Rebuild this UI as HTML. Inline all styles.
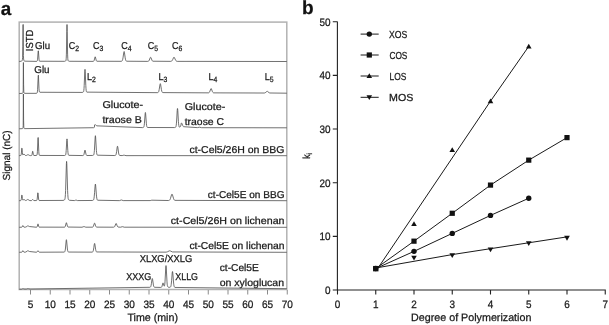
<!DOCTYPE html>
<html lang="en"><head><meta charset="utf-8"><title>Figure</title>
<style>html,body{margin:0;padding:0;background:#fff}body{width:609px;height:325px;overflow:hidden}text{font-family:"Liberation Sans", sans-serif;text-rendering:geometricPrecision;stroke:#1a1a1a;stroke-width:.26px}</style>
</head><body>
<svg width="609" height="325" viewBox="0 0 609 325" style="display:block">
<rect width="609" height="325" fill="#fff"/>
<rect x="19.2" y="22.1" width="267.6" height="267.4" fill="none" stroke="#b2b2b2" stroke-width="1.5"/>
<path d="M30.50 290V294.5 M50.25 290V294.5 M70.00 290V294.5 M89.75 290V294.5 M109.50 290V294.5 M129.25 290V294.5 M149.00 290V294.5 M168.75 290V294.5 M188.50 290V294.5 M208.25 290V294.5 M228.00 290V294.5 M247.75 290V294.5 M267.50 290V294.5 M287.25 290V294.5" stroke="#8a8a8a" stroke-width="1" fill="none"/>
<g font-size="10.7" fill="#1a1a1a" text-anchor="middle">
<text transform="translate(30.50 308) scale(0.94 1)">5</text>
<text transform="translate(50.25 308) scale(0.94 1)">10</text>
<text transform="translate(70.00 308) scale(0.94 1)">15</text>
<text transform="translate(89.75 308) scale(0.94 1)">20</text>
<text transform="translate(109.50 308) scale(0.94 1)">25</text>
<text transform="translate(129.25 308) scale(0.94 1)">30</text>
<text transform="translate(149.00 308) scale(0.94 1)">35</text>
<text transform="translate(168.75 308) scale(0.94 1)">40</text>
<text transform="translate(188.50 308) scale(0.94 1)">45</text>
<text transform="translate(208.25 308) scale(0.94 1)">50</text>
<text transform="translate(228.00 308) scale(0.94 1)">55</text>
<text transform="translate(247.75 308) scale(0.94 1)">60</text>
<text transform="translate(267.50 308) scale(0.94 1)">65</text>
<text transform="translate(287.25 308) scale(0.94 1)">70</text>
</g>
<text x="152.7" y="320.8" font-size="10.7" fill="#1a1a1a" text-anchor="middle" textLength="50.5" lengthAdjust="spacingAndGlyphs">Time (min)</text>
<text transform="translate(9.6 155.4) rotate(-90)" font-size="10.2" fill="#1a1a1a" text-anchor="middle" textLength="50" lengthAdjust="spacingAndGlyphs">Signal (nC)</text>
<text x="0.8" y="14.8" font-size="18.8" font-weight="bold" fill="#111">a</text>
<path d="M19.20 61.44 L21.20 61.26 L21.60 61.12 L21.80 60.99 L22.00 60.78 L22.20 60.41 L22.40 59.65 L22.60 57.73 L22.80 46.25 L23.00 24.50 L23.20 24.50 L23.40 55.39 L23.60 58.94 L23.80 60.10 L24.00 60.62 L24.20 60.90 L24.60 61.17 L36.40 61.38 L37.00 61.23 L37.20 61.04 L37.40 60.50 L37.60 59.21 L38.20 50.89 L38.40 50.89 L39.00 59.21 L39.20 60.50 L39.40 61.04 L39.60 61.23 L64.60 61.32 L65.40 61.10 L65.60 60.99 L65.80 60.79 L66.00 60.32 L66.20 58.76 L66.40 54.12 L66.80 31.27 L67.00 24.50 L67.20 31.27 L67.60 54.12 L67.80 58.76 L68.00 60.32 L68.20 60.79 L68.40 60.99 L69.20 61.28 L93.20 61.38 L93.60 61.24 L93.80 61.07 L94.00 60.77 L94.20 60.27 L95.00 57.07 L95.20 56.80 L95.40 57.07 L96.20 60.27 L96.40 60.77 L96.60 61.07 L96.80 61.24 L121.20 61.32 L121.80 61.15 L122.00 61.00 L122.20 60.77 L122.40 60.38 L122.60 59.80 L123.00 57.85 L123.80 52.29 L124.00 51.59 L124.20 51.59 L124.40 52.29 L125.20 57.85 L125.60 59.80 L125.80 60.38 L126.00 60.77 L126.20 61.00 L126.60 61.23 L147.80 61.39 L148.40 61.23 L148.80 60.94 L149.20 60.35 L150.20 57.76 L150.40 57.42 L150.60 57.30 L150.80 57.42 L151.00 57.76 L152.00 60.35 L152.40 60.94 L152.80 61.23 L170.80 61.37 L171.40 61.21 L171.80 60.97 L172.20 60.51 L172.80 59.35 L173.60 57.54 L173.80 57.29 L174.00 57.20 L174.20 57.29 L174.40 57.54 L175.60 60.18 L176.00 60.77 L176.40 61.11 L177.20 61.37 L286.80 61.50" fill="none" stroke="#4c4c4c" stroke-width="0.8" stroke-linejoin="round"/>
<path d="M19.20 93.49 L22.20 93.37 L22.60 93.22 L22.80 93.03 L23.00 92.52 L23.20 90.42 L23.40 62.50 L23.60 84.87 L23.80 91.90 L24.00 92.84 L24.20 93.14 L24.60 93.34 L36.20 93.34 L36.80 93.19 L37.00 93.07 L37.20 92.75 L37.40 91.88 L37.60 89.75 L38.20 76.15 L38.40 75.15 L39.00 88.76 L39.20 90.88 L39.40 91.76 L39.60 92.07 L40.00 92.27 L82.20 92.42 L83.00 92.23 L83.20 92.12 L83.40 91.92 L83.60 91.48 L83.80 90.53 L84.00 88.68 L84.20 85.51 L84.80 71.18 L85.00 69.33 L85.20 71.18 L85.80 85.52 L86.00 88.68 L86.20 90.54 L86.40 91.48 L86.60 91.93 L86.80 92.13 L157.40 92.67 L158.00 92.51 L158.20 92.38 L158.40 92.17 L158.60 91.81 L158.80 91.28 L159.20 89.49 L160.00 84.37 L160.20 83.73 L160.40 83.73 L160.60 84.37 L161.40 89.49 L161.80 91.29 L162.00 91.82 L162.20 92.18 L162.40 92.39 L162.80 92.60 L208.40 92.85 L208.80 92.75 L209.20 92.50 L209.60 91.97 L210.80 88.87 L211.00 88.62 L211.20 88.62 L211.40 88.87 L212.40 91.57 L212.80 92.29 L213.20 92.66 L213.80 92.87 L264.40 93.02 L265.20 92.75 L266.80 91.47 L267.20 91.35 L267.60 91.47 L269.00 92.65 L269.80 92.99 L286.80 93.20" fill="none" stroke="#4c4c4c" stroke-width="0.8" stroke-linejoin="round"/>
<path d="M19.20 128.79 L22.20 128.67 L22.60 128.52 L22.80 128.33 L23.00 127.82 L23.20 125.72 L23.40 94.00 L23.60 120.17 L23.80 127.20 L24.00 128.14 L24.20 128.45 L24.60 128.65 L93.60 127.71 L94.00 127.58 L94.40 127.29 L94.60 124.92 L95.00 124.64 L95.20 124.58 L95.40 124.62 L96.60 125.84 L142.60 127.61 L143.20 127.49 L143.60 127.26 L143.80 126.97 L144.00 126.41 L144.20 125.42 L144.40 123.81 L145.20 113.39 L145.40 112.49 L145.60 113.39 L146.40 123.81 L146.60 125.42 L146.80 126.41 L147.00 126.97 L147.20 127.26 L147.60 127.50 L174.60 127.57 L175.40 127.36 L175.60 127.22 L175.80 126.95 L176.00 126.44 L176.20 125.47 L176.40 123.84 L176.80 118.02 L177.20 110.74 L177.40 108.56 L177.60 108.56 L177.80 110.73 L178.40 121.31 L178.60 123.80 L178.80 125.42 L179.00 126.37 L179.20 126.86 L179.40 127.09 L179.60 127.16 L179.80 127.13 L180.00 127.02 L180.20 126.80 L180.60 126.06 L181.00 125.03 L181.20 123.38 L181.40 123.07 L181.60 122.99 L181.80 123.16 L182.80 125.70 L183.20 126.37 L183.60 126.70 L197.40 127.63 L199.40 127.21 L201.60 127.70 L286.80 127.80" fill="none" stroke="#4c4c4c" stroke-width="0.8" stroke-linejoin="round"/>
<path d="M19.20 155.65 L20.60 155.54 L20.80 155.46 L21.00 155.23 L21.20 154.54 L21.40 152.94 L21.80 148.20 L22.00 148.19 L22.40 152.83 L22.60 154.34 L22.80 154.90 L23.00 154.95 L23.80 154.18 L24.00 154.13 L24.20 154.20 L25.20 155.30 L25.60 155.49 L26.20 155.50 L26.80 155.28 L27.60 154.77 L28.00 154.66 L28.40 154.78 L29.40 155.39 L30.40 155.60 L31.40 155.55 L31.60 155.47 L31.80 155.26 L32.00 154.72 L32.60 151.32 L32.80 151.32 L33.40 154.72 L33.60 155.25 L33.80 155.46 L36.00 155.51 L36.60 155.36 L36.80 155.23 L37.00 154.90 L37.20 153.99 L37.40 151.77 L38.00 137.57 L38.20 137.57 L38.80 151.78 L39.00 154.00 L39.20 154.91 L39.40 155.24 L39.80 155.44 L64.60 155.50 L65.20 155.33 L65.40 155.18 L65.60 154.86 L65.80 154.18 L66.00 152.84 L66.20 150.56 L66.80 140.23 L67.00 138.89 L67.20 140.23 L67.80 150.56 L68.00 152.84 L68.20 154.18 L68.40 154.86 L68.60 155.18 L68.80 155.33 L82.80 155.57 L83.20 155.49 L83.40 155.38 L83.60 155.18 L83.80 154.81 L84.00 154.22 L84.80 150.41 L85.00 150.08 L85.20 150.41 L86.00 154.22 L86.20 154.80 L86.40 155.17 L86.60 155.37 L87.00 155.53 L92.60 155.45 L93.20 155.30 L93.40 155.20 L93.60 155.00 L93.80 154.62 L94.00 153.89 L94.20 152.59 L94.40 150.48 L95.20 136.87 L95.40 135.69 L95.60 136.87 L96.40 150.49 L96.60 152.59 L96.80 153.89 L97.00 154.62 L97.20 155.00 L97.40 155.20 L114.80 155.54 L115.40 155.39 L115.60 155.25 L115.80 155.02 L116.00 154.61 L116.20 153.95 L116.60 151.69 L117.20 147.13 L117.40 146.30 L117.60 146.30 L117.80 147.13 L118.60 152.98 L118.80 153.95 L119.00 154.61 L119.20 155.01 L119.40 155.25 L119.80 155.46 L122.20 155.58 L123.80 155.18 L124.40 155.23 L126.00 155.64 L286.80 155.70" fill="none" stroke="#4c4c4c" stroke-width="0.8" stroke-linejoin="round"/>
<path d="M19.20 200.66 L20.60 200.58 L20.80 200.52 L21.00 200.34 L21.20 199.83 L21.40 198.64 L21.80 195.12 L22.00 195.11 L22.40 198.56 L22.60 199.67 L22.80 200.08 L23.00 200.11 L23.80 199.49 L24.00 199.44 L24.20 199.50 L25.20 200.36 L25.60 200.50 L26.00 200.48 L26.60 200.21 L27.40 199.61 L27.80 199.47 L28.20 199.61 L29.20 200.35 L30.00 200.60 L31.20 200.62 L31.60 200.52 L32.00 200.19 L32.40 199.67 L32.60 199.50 L32.80 199.50 L33.60 200.39 L34.00 200.59 L36.40 200.55 L36.60 200.49 L36.80 200.35 L37.00 199.96 L37.20 199.00 L37.80 192.88 L38.00 192.88 L38.60 199.00 L38.80 199.96 L39.00 200.35 L39.20 200.50 L63.00 200.41 L64.00 200.16 L64.40 199.94 L64.60 199.73 L64.80 199.34 L65.00 198.59 L65.20 197.16 L65.40 194.60 L65.60 190.47 L66.40 163.72 L66.60 161.40 L66.80 163.72 L67.60 190.47 L67.80 194.60 L68.00 197.16 L68.20 198.59 L68.40 199.34 L68.60 199.73 L68.80 199.94 L69.60 200.29 L74.40 200.58 L75.20 200.34 L75.80 200.08 L76.20 200.08 L77.40 200.57 L92.40 200.47 L93.00 200.34 L93.20 200.24 L93.40 200.06 L93.60 199.75 L93.80 199.20 L94.00 198.29 L94.20 196.88 L94.60 192.39 L95.00 186.87 L95.20 184.85 L95.40 184.09 L95.60 184.85 L96.40 194.90 L96.60 196.88 L96.80 198.29 L97.00 199.20 L97.20 199.75 L97.40 200.06 L97.60 200.24 L119.40 200.63 L121.20 200.02 L121.60 200.02 L123.20 200.60 L150.20 200.58 L151.80 200.20 L168.60 200.53 L169.20 200.37 L169.60 200.10 L170.00 199.58 L170.40 198.68 L171.60 194.62 L171.80 194.24 L172.00 194.10 L172.20 194.24 L172.40 194.62 L173.60 198.68 L174.00 199.58 L174.40 200.10 L174.80 200.37 L286.80 200.70" fill="none" stroke="#4c4c4c" stroke-width="0.8" stroke-linejoin="round"/>
<path d="M19.20 227.28 L21.60 227.23 L21.80 227.18 L22.00 227.06 L22.20 226.82 L22.80 225.63 L23.00 225.63 L23.60 226.81 L23.80 227.04 L24.00 227.16 L25.40 227.15 L26.20 226.87 L27.40 226.02 L27.80 225.88 L28.20 225.93 L29.40 226.52 L36.20 227.22 L36.80 227.13 L37.00 226.98 L37.20 226.63 L37.40 226.00 L37.80 224.26 L38.00 223.89 L38.20 224.27 L38.60 226.01 L38.80 226.64 L39.00 226.98 L39.20 227.14 L64.40 227.18 L64.80 227.05 L65.00 226.88 L65.20 226.58 L65.40 226.10 L66.20 222.97 L66.40 222.70 L66.60 222.97 L67.40 226.10 L67.60 226.58 L67.80 226.88 L68.00 227.05 L82.00 227.23 L83.80 226.61 L84.20 226.61 L85.80 227.20 L92.40 227.18 L92.80 227.06 L93.00 226.92 L93.20 226.69 L93.40 226.33 L94.20 223.80 L94.40 223.29 L94.60 223.10 L94.80 223.29 L95.60 225.83 L95.80 226.33 L96.00 226.69 L96.20 226.92 L96.60 227.14 L113.60 227.19 L114.00 227.11 L114.40 226.87 L114.80 226.33 L115.80 223.80 L116.00 223.53 L116.20 223.53 L116.40 223.80 L117.20 225.91 L117.60 226.65 L118.00 227.02 L120.40 227.22 L122.40 226.69 L123.00 226.79 L124.20 227.19 L286.80 227.30" fill="none" stroke="#4c4c4c" stroke-width="0.8" stroke-linejoin="round"/>
<path d="M19.20 252.28 L21.60 252.23 L21.80 252.18 L22.00 252.07 L22.20 251.84 L22.80 250.72 L23.00 250.72 L23.60 251.83 L23.80 252.06 L24.00 252.16 L25.20 252.18 L26.00 251.95 L27.40 250.93 L27.80 250.78 L28.20 250.84 L29.40 251.49 L36.20 252.24 L36.80 252.13 L37.00 252.01 L37.40 251.48 L37.80 250.81 L38.00 250.68 L38.20 250.81 L38.80 251.80 L39.00 252.02 L39.40 252.21 L64.00 252.10 L64.40 251.99 L64.60 251.86 L64.80 251.62 L65.00 251.16 L65.20 250.34 L65.40 249.02 L66.20 240.44 L66.40 239.70 L66.60 240.44 L67.40 249.02 L67.60 250.34 L67.80 251.16 L68.00 251.62 L68.20 251.86 L68.60 252.05 L92.00 252.14 L92.40 252.05 L92.60 251.96 L92.80 251.79 L93.00 251.50 L93.20 251.01 L93.40 250.25 L93.80 247.85 L94.20 244.89 L94.40 243.80 L94.60 243.40 L94.80 243.80 L95.60 249.19 L95.80 250.25 L96.00 251.01 L96.20 251.50 L96.40 251.79 L96.60 251.96 L166.20 252.15 L167.60 251.71 L169.20 250.88 L169.80 250.80 L170.60 251.05 L172.40 251.95 L286.80 252.30" fill="none" stroke="#4c4c4c" stroke-width="0.8" stroke-linejoin="round"/>
<path d="M19.20 289.19 L21.80 289.13 L22.20 289.00 L22.80 288.44 L23.00 288.34 L23.20 288.43 L23.80 288.98 L26.20 289.04 L27.80 288.60 L28.40 288.63 L30.00 289.01 L149.80 287.31 L150.20 287.20 L150.40 287.07 L150.60 286.85 L150.80 286.46 L151.00 285.85 L151.40 283.71 L152.00 279.39 L152.20 278.61 L152.40 278.61 L152.60 279.40 L153.40 284.95 L153.60 285.87 L153.80 286.49 L154.00 286.88 L154.20 287.11 L154.60 287.31 L160.80 287.43 L161.20 287.36 L161.40 287.27 L161.60 287.09 L161.80 286.79 L162.00 286.31 L162.80 283.19 L163.00 282.90 L163.20 283.13 L163.80 285.36 L164.00 285.92 L164.20 286.18 L164.40 286.05 L164.60 285.41 L164.80 284.07 L165.00 281.80 L165.80 266.88 L166.00 265.59 L166.20 266.90 L167.00 281.88 L167.20 284.19 L167.40 285.62 L167.60 286.42 L167.80 286.84 L168.00 287.05 L168.60 287.27 L169.80 287.31 L170.20 287.22 L170.40 287.10 L170.60 286.88 L170.80 286.49 L171.00 285.79 L171.20 284.68 L171.60 280.82 L172.20 273.02 L172.40 271.60 L172.60 271.61 L172.80 273.03 L173.60 283.09 L173.80 284.76 L174.00 285.89 L174.20 286.59 L174.40 287.00 L174.60 287.24 L175.00 287.45 L286.80 288.70" fill="none" stroke="#4c4c4c" stroke-width="0.8" stroke-linejoin="round"/>
<text transform="translate(32.7 51.2) rotate(-90)" font-size="10.2" fill="#1a1a1a" textLength="21.4" lengthAdjust="spacingAndGlyphs">ISTD</text>
<text x="35" y="48.8" font-size="10.0" fill="#1a1a1a" text-anchor="start" textLength="15" lengthAdjust="spacingAndGlyphs">Glu</text>
<text x="34.3" y="72.5" font-size="10.0" fill="#1a1a1a" text-anchor="start" textLength="15.2" lengthAdjust="spacingAndGlyphs">Glu</text>
<text transform="translate(68.7 48.8) scale(0.9 1)" font-size="10.0" fill="#1a1a1a">C<tspan font-size="7.6" dy="2.4">2</tspan></text>
<text transform="translate(92.9 48.8) scale(0.9 1)" font-size="10.0" fill="#1a1a1a">C<tspan font-size="7.6" dy="2.4">3</tspan></text>
<text transform="translate(121.3 48.8) scale(0.9 1)" font-size="10.0" fill="#1a1a1a">C<tspan font-size="7.6" dy="2.4">4</tspan></text>
<text transform="translate(147.7 48.8) scale(0.9 1)" font-size="10.0" fill="#1a1a1a">C<tspan font-size="7.6" dy="2.4">5</tspan></text>
<text transform="translate(171.9 48.8) scale(0.9 1)" font-size="10.0" fill="#1a1a1a">C<tspan font-size="7.6" dy="2.4">6</tspan></text>
<text transform="translate(87.0 80.0) scale(0.9 1)" font-size="10.0" fill="#1a1a1a">L<tspan font-size="7.6" dy="2.4">2</tspan></text>
<text transform="translate(158.6 80.0) scale(0.9 1)" font-size="10.0" fill="#1a1a1a">L<tspan font-size="7.6" dy="2.4">3</tspan></text>
<text transform="translate(208.39999999999998 80.0) scale(0.9 1)" font-size="10.0" fill="#1a1a1a">L<tspan font-size="7.6" dy="2.4">4</tspan></text>
<text transform="translate(264.7 80.0) scale(0.9 1)" font-size="10.0" fill="#1a1a1a">L<tspan font-size="7.6" dy="2.4">5</tspan></text>
<text x="102.4" y="108" font-size="10.0" fill="#1a1a1a" text-anchor="start" textLength="40.8" lengthAdjust="spacingAndGlyphs">Glucote-</text>
<text x="102.4" y="122.5" font-size="10.0" fill="#1a1a1a" text-anchor="start" textLength="39.4" lengthAdjust="spacingAndGlyphs">traose B</text>
<text x="184.7" y="109.8" font-size="10.0" fill="#1a1a1a" text-anchor="start" textLength="40.6" lengthAdjust="spacingAndGlyphs">Glucote-</text>
<text x="184.7" y="124.5" font-size="10.0" fill="#1a1a1a" text-anchor="start" textLength="39.4" lengthAdjust="spacingAndGlyphs">traose C</text>
<text x="284.5" y="153.1" font-size="10.0" fill="#1a1a1a" text-anchor="end" textLength="95.1" lengthAdjust="spacingAndGlyphs">ct-Cel5/26H on BBG</text>
<text x="284.5" y="197.8" font-size="10.0" fill="#1a1a1a" text-anchor="end" textLength="76.7" lengthAdjust="spacingAndGlyphs">ct-Cel5E on BBG</text>
<text x="284.5" y="223.9" font-size="10.0" fill="#1a1a1a" text-anchor="end" textLength="113.7" lengthAdjust="spacingAndGlyphs">ct-Cel5/26H on lichenan</text>
<text x="284.5" y="248.9" font-size="10.0" fill="#1a1a1a" text-anchor="end" textLength="95.1" lengthAdjust="spacingAndGlyphs">ct-Cel5E on lichenan</text>
<text x="139.7" y="262" font-size="10.0" fill="#1a1a1a" text-anchor="start" textLength="52.5" lengthAdjust="spacingAndGlyphs">XLXG/XXLG</text>
<text x="126.2" y="279.5" font-size="10.0" fill="#1a1a1a" text-anchor="start" textLength="25" lengthAdjust="spacingAndGlyphs">XXXG</text>
<text x="175.3" y="279.5" font-size="10.0" fill="#1a1a1a" text-anchor="start" textLength="22.7" lengthAdjust="spacingAndGlyphs">XLLG</text>
<text x="219.7" y="271.3" font-size="10.0" fill="#1a1a1a" text-anchor="start" textLength="39.2" lengthAdjust="spacingAndGlyphs">ct-Cel5E</text>
<text x="219.7" y="285.6" font-size="10.0" fill="#1a1a1a" text-anchor="start" textLength="64.4" lengthAdjust="spacingAndGlyphs">on xyloglucan</text>
<text x="302" y="14.4" font-size="19" font-weight="bold" fill="#111">b</text>
<path d="M337.4 21.5V290 M332.8 290H605.8 M332.8 236.34H337.4 M332.8 182.68H337.4 M332.8 129.02H337.4 M332.8 75.36H337.4 M332.8 21.70H337.4 M337.50 290V294.6 M375.75 290V294.6 M414.00 290V294.6 M452.25 290V294.6 M490.50 290V294.6 M528.75 290V294.6 M567.00 290V294.6 M605.25 290V294.6" stroke="#222" stroke-width="1.1" fill="none"/>
<g font-size="10.8" fill="#1a1a1a" text-anchor="end">
<text transform="translate(330.6 293.90) scale(0.92 1)">0</text>
<text transform="translate(330.6 240.24) scale(0.92 1)">10</text>
<text transform="translate(330.6 186.58) scale(0.92 1)">20</text>
<text transform="translate(330.6 132.92) scale(0.92 1)">30</text>
<text transform="translate(330.6 79.26) scale(0.92 1)">40</text>
<text transform="translate(330.6 25.60) scale(0.92 1)">50</text>
</g>
<g font-size="10.8" fill="#1a1a1a" text-anchor="middle">
<text transform="translate(337.50 308.2) scale(0.92 1)">0</text>
<text transform="translate(375.75 308.2) scale(0.92 1)">1</text>
<text transform="translate(414.00 308.2) scale(0.92 1)">2</text>
<text transform="translate(452.25 308.2) scale(0.92 1)">3</text>
<text transform="translate(490.50 308.2) scale(0.92 1)">4</text>
<text transform="translate(528.75 308.2) scale(0.92 1)">5</text>
<text transform="translate(567.00 308.2) scale(0.92 1)">6</text>
<text transform="translate(605.25 308.2) scale(0.92 1)">7</text>
</g>
<text x="411.1" y="321.1" font-size="10.7" fill="#1a1a1a" text-anchor="start" textLength="120.3" lengthAdjust="spacingAndGlyphs">Degree of Polymerization</text>
<text transform="translate(309.5 158.8) rotate(-90) scale(0.82 1)" font-size="10.3" fill="#1a1a1a">k<tspan font-size="7.4" dy="2.6">i</tspan></text>
<g stroke="#1a1a1a" stroke-width="1" fill="none">
<path d="M375.75 268.54 L414.00 251.36 L452.25 233.39 L490.50 215.41 L528.75 198.24"/>
<path d="M375.75 268.54 L414.00 241.17 L452.25 213.27 L490.50 185.09 L528.75 160.14 L567.00 137.61"/>
<path d="M377.66 268.54 L490.50 101.12 L528.75 46.38"/>
<path d="M375.75 268.00 L452.25 254.58 L567.00 236.88"/>
<path d="M360.6 34.1H378.7"/>
<path d="M360.6 55H378.7"/>
<path d="M360.6 76H378.7"/>
<path d="M360.6 97.3H378.7"/>
</g>
<g fill="#111">
<circle cx="375.75" cy="268.54" r="2.7"/>
<circle cx="414.00" cy="251.36" r="2.7"/>
<circle cx="452.25" cy="233.39" r="2.7"/>
<circle cx="490.50" cy="215.41" r="2.7"/>
<circle cx="528.75" cy="198.24" r="2.7"/>
<rect x="373.15" y="265.94" width="5.2" height="5.2"/>
<rect x="411.40" y="238.57" width="5.2" height="5.2"/>
<rect x="449.65" y="210.67" width="5.2" height="5.2"/>
<rect x="487.90" y="182.49" width="5.2" height="5.2"/>
<rect x="526.15" y="157.54" width="5.2" height="5.2"/>
<rect x="564.40" y="135.01" width="5.2" height="5.2"/>
<path d="M375.75 266.37L378.55 271.17H372.95Z"/>
<path d="M414.00 221.30L416.80 226.10H411.20Z"/>
<path d="M452.25 147.25L455.05 152.05H449.45Z"/>
<path d="M490.50 98.42L493.30 103.22H487.70Z"/>
<path d="M528.75 43.68L531.55 48.48H525.95Z"/>
<path d="M375.75 271.24L378.55 266.44H372.95Z"/>
<path d="M414.00 260.50L416.80 255.70H411.20Z"/>
<path d="M452.25 258.09L455.05 253.29H449.45Z"/>
<path d="M490.50 252.19L493.30 247.39H487.70Z"/>
<path d="M528.75 246.02L531.55 241.22H525.95Z"/>
<path d="M567.00 240.65L569.80 235.85H564.20Z"/>
<circle cx="369.30" cy="34.10" r="2.7"/>
<rect x="366.70" y="52.40" width="5.2" height="5.2"/>
<path d="M369.30 73.30L372.10 78.10H366.50Z"/>
<path d="M369.30 100.00L372.10 95.20H366.50Z"/>
</g>
<text x="389" y="37.6" font-size="10.2" fill="#1a1a1a" text-anchor="start" textLength="18.3" lengthAdjust="spacingAndGlyphs">XOS</text>
<text x="389.4" y="58.6" font-size="10.2" fill="#1a1a1a" text-anchor="start" textLength="18" lengthAdjust="spacingAndGlyphs">COS</text>
<text x="389.6" y="79.7" font-size="10.2" fill="#1a1a1a" text-anchor="start" textLength="16.8" lengthAdjust="spacingAndGlyphs">LOS</text>
<text x="389.1" y="101" font-size="10.2" fill="#1a1a1a" text-anchor="start" textLength="24.3" lengthAdjust="spacingAndGlyphs">MOS</text>
</svg>
</body></html>
